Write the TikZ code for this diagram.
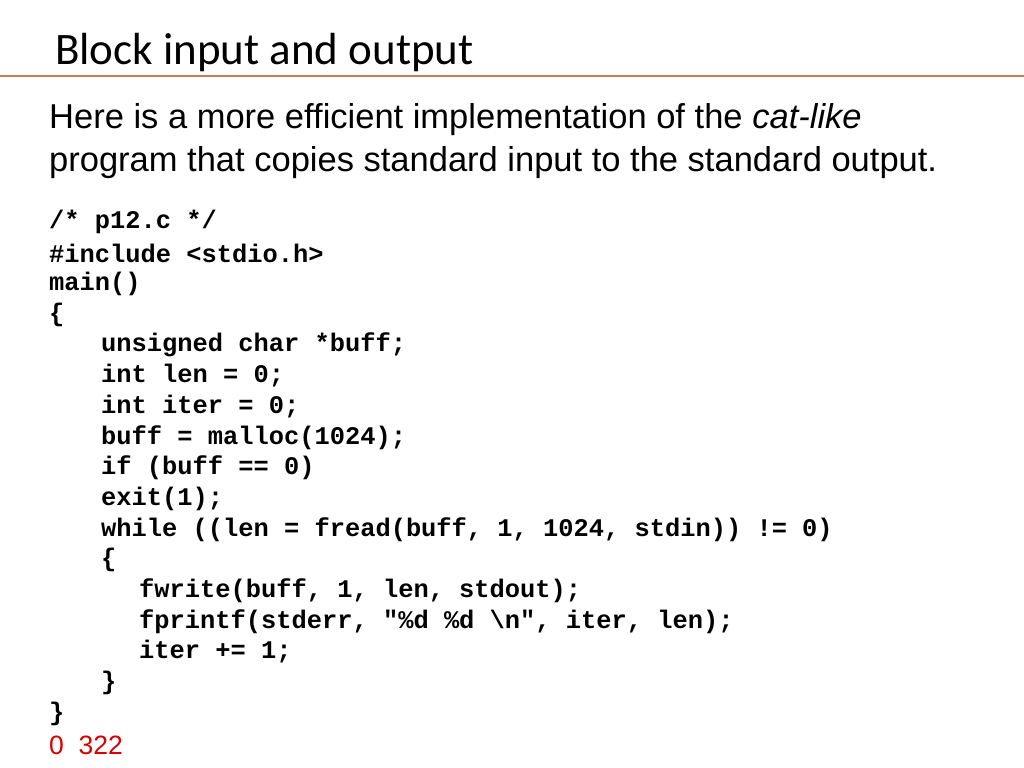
\documentclass[tikz,border=0pt]{standalone}
\usepackage{fontspec}
\setmainfont{Liberation Sans}
\newfontfamily\titlefont{Carlito}
\newfontfamily\codefont{Liberation Mono}
\definecolor{rulec}{HTML}{C08060}
\begin{document}
\begin{tikzpicture}[x=1bp,y=-1bp,
  code/.style={anchor=west,inner sep=0pt,font=\codefont\bfseries\fontsize{25.4bp}{26bp}\selectfont},
  body/.style={anchor=base west,inner sep=0pt,font=\fontsize{34.5bp}{36bp}\selectfont}]
\useasboundingbox (0,0) rectangle (1024,768);
\node[anchor=base west,inner sep=0pt,font=\titlefont\fontsize{45bp}{48bp}\selectfont] (title) at (55,65) {Block input and output};
\draw[rulec,line width=2bp] (0,76) -- (1024,76);
\node[body] (l1) at (49,128) {Here is a more efficient implementation of the \textit{cat-like}};
\node[body] (l2) at (49,171) {program that copies standard input to the standard output.};
\node[code] (c1) at (49,222) {/* p12.c */};
\node[code] (c2) at (49,253) {\#include <stdio.h>};
\node[code] (c3) at (49,284) {main()};
\node[code] (c4) at (49,315) {\{};
\node[code] (c5) at (101,345) {unsigned char *buff;};
\node[code] (c6) at (101,376) {int len = 0;};
\node[code] (c7) at (101,407) {int iter = 0;};
\node[code] (c8) at (101,438) {buff = malloc(1024);};
\node[code] (c9) at (101,468) {if (buff == 0)};
\node[code] (c10) at (101,499) {exit(1);};
\node[code] (c11) at (101,530) {while ((len = fread(buff, 1, 1024, stdin)) != 0)};
\node[code] (c12) at (101,560) {\{};
\node[code] (c13) at (139,591) {fwrite(buff, 1, len, stdout);};
\node[code] (c14) at (139,622) {fprintf(stderr, "\%d \%d \textbackslash n", iter, len);};
\node[code] (c15) at (139,652) {iter += 1;};
\node[code] (c16) at (101,683) {\}};
\node[code] (c17) at (49,714) {\}};
\node[anchor=west,inner sep=0pt,text=red!85!black,font=\fontsize{26.5bp}{28bp}\selectfont] (out) at (49,745) {0\ \ 322};
\end{tikzpicture}
\end{document}
